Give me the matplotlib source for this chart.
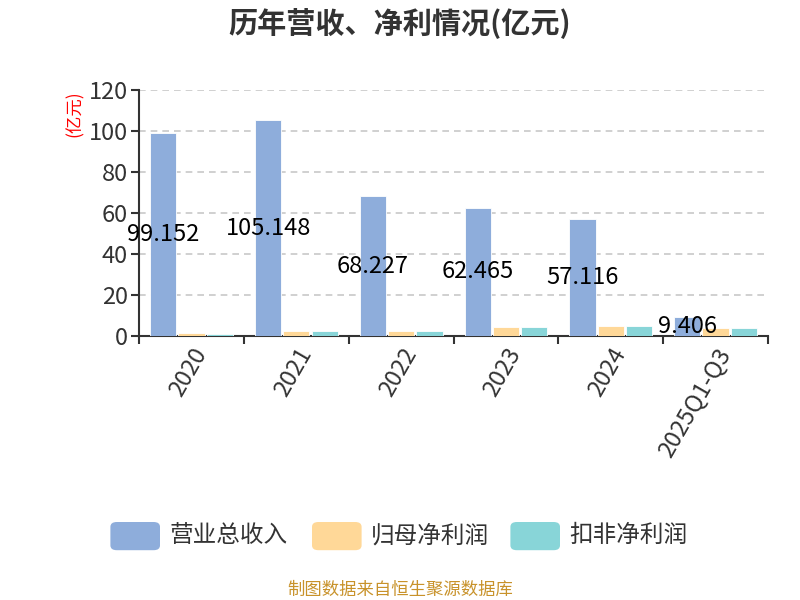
import matplotlib
matplotlib.use('Agg')
import matplotlib.pyplot as plt
import numpy as np
from matplotlib.patches import FancyBboxPatch

plt.rcParams['font.family'] = ['Noto Sans CJK SC', 'DejaVu Sans']

years = ['2020', '2021', '2022', '2023', '2024', '2025Q1-Q3']
revenue = [99.152, 105.148, 68.227, 62.465, 57.116, 9.406]
net_profit = [1.3, 2.6, 2.5, 4.2, 4.9, 3.7]
net_profit_ex = [1.2, 2.6, 2.5, 4.5, 5.0, 3.7]
series_names = ['营业总收入', '归母净利润', '扣非净利润']
colors = ['#8eaddb', '#ffd898', '#88d5d8']

fig = plt.figure(figsize=(8, 6), dpi=100)
ax = fig.add_axes([0.174, 0.44, 0.786, 0.41])

x = np.arange(len(years))
w = 0.25
gap = 0.02
for i, vals in enumerate([revenue, net_profit, net_profit_ex]):
    ax.bar(x + (i - 1) * (w + gap), vals, width=w, color=colors[i],
           edgecolor='white', linewidth=0.6, zorder=3)

for xi, v in zip(x, revenue):
    ax.text(xi - (w + gap), v / 2, str(v),
            ha='center', va='center', fontsize=17, color='black', zorder=4)

ax.set_xlim(-0.5, len(years) - 0.5)
ax.set_ylim(0, 120)
ax.set_yticks(range(0, 121, 20))
ax.yaxis.grid(True, linestyle=(0, (4, 3)), color='#c8c8c8', linewidth=1.2, zorder=0)
ax.set_xticks(np.arange(-0.5, len(years), 1))
ax.set_xticklabels([])
ax.set_xticks(x, minor=True)
ax.set_xticklabels(years, minor=True, rotation=60, ha='right', rotation_mode='anchor',
                   fontsize=17, color='#333333')
ax.tick_params(axis='x', which='minor', length=0, pad=6)
ax.tick_params(axis='x', which='major', length=6, width=1.5, color='#333333')
ax.tick_params(axis='y', length=6, width=1.5, color='#333333', labelsize=17,
               labelcolor='#333333', pad=2)
for s in ['top', 'right']:
    ax.spines[s].set_visible(False)
for s in ['left', 'bottom']:
    ax.spines[s].set_linewidth(1.5)
    ax.spines[s].set_color('#333333')

ax.text(-0.102, 1.0, '(亿元)', transform=ax.transAxes, rotation=90, color='red',
        fontsize=12.5, ha='center', va='top')

fig.text(0.5, 0.962, '历年营收、净利情况(亿元)', ha='center', va='center',
         fontsize=21, fontweight='bold', color='#333333')

# legend
leg_x = [0.138, 0.39, 0.638]
for lx, name, c in zip(leg_x, series_names, colors):
    fig.patches.append(FancyBboxPatch((lx, 0.083), 0.062, 0.047,
                                      boxstyle='round,pad=0,rounding_size=0.008',
                                      transform=fig.transFigure, facecolor=c,
                                      edgecolor='none'))
    fig.text(lx + 0.074, 0.107, name, ha='left', va='center', fontsize=17,
             color='#333333')

fig.text(0.5, 0.017, '制图数据来自恒生聚源数据库', ha='center', va='center',
         fontsize=12.5, color='#c8922a')

fig.savefig('out.png', dpi=100)
